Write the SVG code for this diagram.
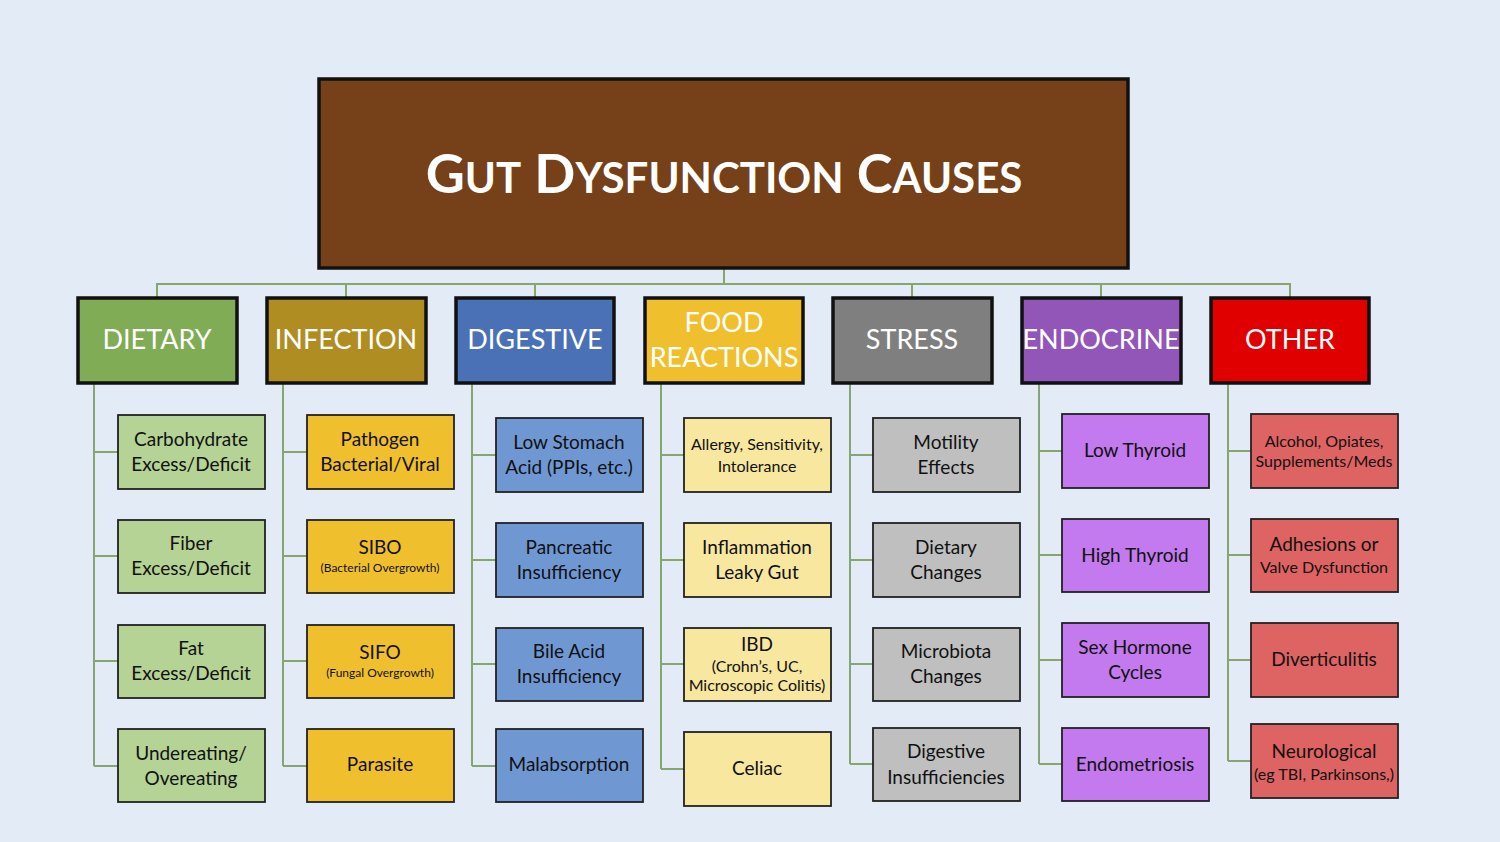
<svg xmlns="http://www.w3.org/2000/svg" width="1500" height="842" viewBox="0 0 1500 842">
<style>
text{font-family:Lato,"Open Sans","Liberation Sans",sans-serif;text-anchor:middle}
.cat{stroke:#111;stroke-width:3.5}
.cat-t{fill:#fff;font-size:27px}
.ch{stroke:#222;stroke-width:1.8}
.ch-t{fill:#111;font-size:19px}
.sm{font-size:12px}
.md{font-size:16px}
.ln{stroke:#86a66f;stroke-width:2;fill:none}
</style>
<rect width="1500" height="842" fill="#e3ebf6"/>
<g id="connectors">
<path class="ln" d="M724 268V284M157 298V284H1290V298M346 284V298M535 284V298M912 284V298M1101 284V298"/>
<path class="ln" d="M94 383V766M94 452H118M94 556H118M94 661H118M94 766H118"/>
<path class="ln" d="M283 383V766M283 452H307M283 556H307M283 661H307M283 766H307"/>
<path class="ln" d="M472 383V766M472 455H496M472 560H496M472 664H496M472 766H496"/>
<path class="ln" d="M661 383V769M661 455H684M661 560H684M661 664H684M661 769H684"/>
<path class="ln" d="M850 383V764M850 455H873M850 560H873M850 664H873M850 764H873"/>
<path class="ln" d="M1039 383V764M1039 451H1062M1039 555H1062M1039 660H1062M1039 764H1062"/>
<path class="ln" d="M1228 383V761M1228 451H1251M1228 555H1251M1228 660H1251M1228 761H1251"/>
</g>
<g id="title">
<rect x="319" y="79" width="809" height="189" fill="#764119" stroke="#111" stroke-width="3.5"/>
<text x="724" y="193" fill="#fff" font-weight="bold" font-size="54">G<tspan font-size="42">UT</tspan> D<tspan font-size="42">YSFUNCTION</tspan> C<tspan font-size="42">AUSES</tspan></text>
</g>
<g id="dietary"><rect class="cat" x="78" y="298" width="159" height="85" fill="#7fac55"/><text class="cat-t" x="157" y="349">DIETARY</text></g>
<g id="infection"><rect class="cat" x="267" y="298" width="159" height="85" fill="#b08d22"/><text class="cat-t" x="346" y="349">INFECTION</text></g>
<g id="digestive"><rect class="cat" x="456" y="298" width="158" height="85" fill="#4a71b5"/><text class="cat-t" x="535" y="349">DIGESTIVE</text></g>
<g id="food"><rect class="cat" x="645" y="298" width="158" height="85" fill="#f0bf2e"/><text class="cat-t" x="724" y="332">FOOD</text><text class="cat-t" x="724" y="367">REACTIONS</text></g>
<g id="stress"><rect class="cat" x="833" y="298" width="159" height="85" fill="#7f7f7f"/><text class="cat-t" x="912" y="349">STRESS</text></g>
<g id="endocrine"><rect class="cat" x="1022" y="298" width="159" height="85" fill="#9156b8"/><text class="cat-t" x="1101" y="349">ENDOCRINE</text></g>
<g id="other"><rect class="cat" x="1211" y="298" width="158" height="85" fill="#e00000"/><text class="cat-t" x="1290" y="349">OTHER</text></g>

<g id="d1"><rect class="ch" x="118" y="415" width="147" height="74" fill="#b5d394"/><text class="ch-t" x="191" y="446">Carbohydrate</text><text class="ch-t" x="191" y="471">Excess/Deficit</text></g>
<g id="d2"><rect class="ch" x="118" y="520" width="147" height="73" fill="#b5d394"/><text class="ch-t" x="191" y="550">Fiber</text><text class="ch-t" x="191" y="575">Excess/Deficit</text></g>
<g id="d3"><rect class="ch" x="118" y="625" width="147" height="73" fill="#b5d394"/><text class="ch-t" x="191" y="655">Fat</text><text class="ch-t" x="191" y="680">Excess/Deficit</text></g>
<g id="d4"><rect class="ch" x="118" y="729" width="147" height="73" fill="#b5d394"/><text class="ch-t" x="191" y="760">Undereating/</text><text class="ch-t" x="191" y="785">Overeating</text></g>

<g id="i1"><rect class="ch" x="307" y="415" width="147" height="74" fill="#f0bf2e"/><text class="ch-t" x="380" y="446">Pathogen</text><text class="ch-t" x="380" y="471">Bacterial/Viral</text></g>
<g id="i2"><rect class="ch" x="307" y="520" width="147" height="73" fill="#f0bf2e"/><text class="ch-t" x="380" y="554">SIBO</text><text class="ch-t sm" x="380" y="572">(Bacterial Overgrowth)</text></g>
<g id="i3"><rect class="ch" x="307" y="625" width="147" height="73" fill="#f0bf2e"/><text class="ch-t" x="380" y="659">SIFO</text><text class="ch-t sm" x="380" y="677">(Fungal Overgrowth)</text></g>
<g id="i4"><rect class="ch" x="307" y="729" width="147" height="73" fill="#f0bf2e"/><text class="ch-t" x="380" y="771">Parasite</text></g>

<g id="g1"><rect class="ch" x="496" y="418" width="147" height="74" fill="#6f98d3"/><text class="ch-t" x="569" y="449">Low Stomach</text><text class="ch-t" x="569" y="474">Acid (PPIs, etc.)</text></g>
<g id="g2"><rect class="ch" x="496" y="523" width="147" height="74" fill="#6f98d3"/><text class="ch-t" x="569" y="554">Pancreatic</text><text class="ch-t" x="569" y="579">Insufficiency</text></g>
<g id="g3"><rect class="ch" x="496" y="628" width="147" height="73" fill="#6f98d3"/><text class="ch-t" x="569" y="658">Bile Acid</text><text class="ch-t" x="569" y="683">Insufficiency</text></g>
<g id="g4"><rect class="ch" x="496" y="729" width="147" height="73" fill="#6f98d3"/><text class="ch-t" x="569" y="771">Malabsorption</text></g>

<g id="f1"><rect class="ch" x="684" y="418" width="147" height="74" fill="#f8e79f"/><text class="ch-t md" x="757" y="450">Allergy, Sensitivity,</text><text class="ch-t md" x="757" y="472">Intolerance</text></g>
<g id="f2"><rect class="ch" x="684" y="523" width="147" height="74" fill="#f8e79f"/><text class="ch-t" x="757" y="554">Inflammation</text><text class="ch-t" x="757" y="579">Leaky Gut</text></g>
<g id="f3"><rect class="ch" x="684" y="628" width="147" height="73" fill="#f8e79f"/><text class="ch-t" x="757" y="651">IBD</text><text class="ch-t md" x="757" y="672">(Crohn’s, UC,</text><text class="ch-t md" x="757" y="691">Microscopic Colitis)</text></g>
<g id="f4"><rect class="ch" x="684" y="732" width="147" height="74" fill="#f8e79f"/><text class="ch-t" x="757" y="775">Celiac</text></g>

<g id="s1"><rect class="ch" x="873" y="418" width="147" height="74" fill="#bfbfbf"/><text class="ch-t" x="946" y="449">Motility</text><text class="ch-t" x="946" y="474">Effects</text></g>
<g id="s2"><rect class="ch" x="873" y="523" width="147" height="74" fill="#bfbfbf"/><text class="ch-t" x="946" y="554">Dietary</text><text class="ch-t" x="946" y="579">Changes</text></g>
<g id="s3"><rect class="ch" x="873" y="628" width="147" height="73" fill="#bfbfbf"/><text class="ch-t" x="946" y="658">Microbiota</text><text class="ch-t" x="946" y="683">Changes</text></g>
<g id="s4"><rect class="ch" x="873" y="728" width="147" height="73" fill="#bfbfbf"/><text class="ch-t" x="946" y="758">Digestive</text><text class="ch-t" x="946" y="784">Insufficiencies</text></g>

<g id="e1"><rect class="ch" x="1062" y="414" width="147" height="74" fill="#c27aee"/><text class="ch-t" x="1135" y="457">Low Thyroid</text></g>
<g id="e2"><rect class="ch" x="1062" y="519" width="147" height="73" fill="#c27aee"/><text class="ch-t" x="1135" y="562">High Thyroid</text></g>
<g id="e3"><rect class="ch" x="1062" y="623" width="147" height="74" fill="#c27aee"/><text class="ch-t" x="1135" y="654">Sex Hormone</text><text class="ch-t" x="1135" y="679">Cycles</text></g>
<g id="e4"><rect class="ch" x="1062" y="728" width="147" height="73" fill="#c27aee"/><text class="ch-t" x="1135" y="771">Endometriosis</text></g>

<g id="o1"><rect class="ch" x="1251" y="414" width="147" height="74" fill="#de6363"/><text class="ch-t md" x="1324" y="447">Alcohol, Opiates,</text><text class="ch-t md" x="1324" y="467">Supplements/Meds</text></g>
<g id="o2"><rect class="ch" x="1251" y="519" width="147" height="73" fill="#de6363"/><text class="ch-t" x="1324" y="551">Adhesions or</text><text class="ch-t md" x="1324" y="573">Valve Dysfunction</text></g>
<g id="o3"><rect class="ch" x="1251" y="623" width="147" height="74" fill="#de6363"/><text class="ch-t" x="1324" y="666">Diverticulitis</text></g>
<g id="o4"><rect class="ch" x="1251" y="724" width="147" height="74" fill="#de6363"/><text class="ch-t" x="1324" y="758">Neurological</text><text class="ch-t md" x="1324" y="780">(eg TBI, Parkinsons,)</text></g>
</svg>
